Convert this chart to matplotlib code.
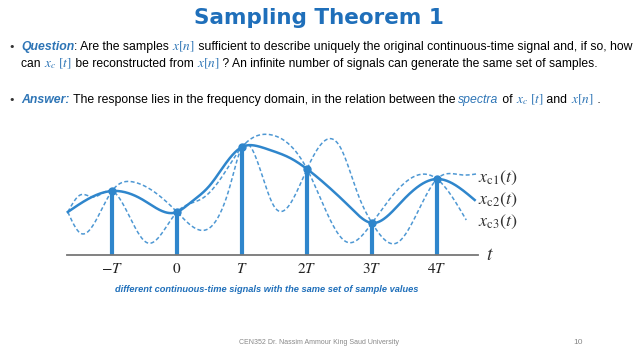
import numpy as np
import matplotlib
matplotlib.use("Agg")
import matplotlib.pyplot as plt

plt.rcParams["mathtext.fontset"] = "stix"

# sample instants (in units of T) and sample heights
t_samples = [-1, 0, 1, 2, 3, 4]
x_samples = [64, 43, 108, 86, 32, 76]
tick_labels = [r"$-T$", r"$0$", r"$T$", r"$2T$", r"$3T$", r"$4T$"]

# knots
t_c1 = [-1.68, -1.49, -1.0, -0.67, 0.0, 0.5, 0.82, 1.0, 1.5, 2.0, 2.51, 2.8, 3.0, 3.38, 4.0, 4.4, 4.6]
x_c1 = [43, 22, 64, 73, 43, 27, 70, 108, 48, 86, 108, 58, 32, 12, 76, 80, 81]

t_c2 = [-1.68, -1.34, -1.0, -0.52, 0.0, 0.2, 0.51, 0.71, 1.0, 1.23, 1.43, 1.74, 2.0, 2.35, 2.66,
        3.0, 3.48, 4.0, 4.58]
x_c2 = [43, 57, 64, 55, 43, 52, 70, 88, 108, 109, 105, 97, 86, 67, 48, 32, 55, 76, 55]

t_c3 = [-1.68, -1.49, -1.29, -1.0, -0.45, 0.0, 0.4, 0.71, 1.0, 1.46, 2.0, 2.61, 3.0, 3.5, 4.0, 4.45]
x_c3 = [43, 60, 58, 64, 12, 43, 57, 80, 108, 120, 86, 13, 32, 72, 76, 35]

curve_names = [r"$x_{\rm c1}(t)$", r"$x_{\rm c2}(t)$", r"$x_{\rm c3}(t)$"]

BLUE = "#2f86cc"
TITLE_BLUE = "#1f6fba"
MATH_BLUE = "#2e75b6"


def spline(xk, yk, n=600):
    # natural cubic spline through the read knots, used only to draw a smooth line
    xk = np.asarray(xk, float)
    yk = np.asarray(yk, float)
    k = len(xk)
    h = np.diff(xk)
    A = np.zeros((k, k))
    b = np.zeros(k)
    A[0, 0] = A[-1, -1] = 1
    for i in range(1, k - 1):
        A[i, i - 1] = h[i - 1]
        A[i, i] = 2 * (h[i - 1] + h[i])
        A[i, i + 1] = h[i]
        b[i] = 6 * ((yk[i + 1] - yk[i]) / h[i] - (yk[i] - yk[i - 1]) / h[i - 1])
    M = np.linalg.solve(A, b)
    xs = np.linspace(xk[0], xk[-1], n)
    j = np.clip(np.searchsorted(xk, xs) - 1, 0, k - 2)
    a = xk[j + 1] - xs
    c = xs - xk[j]
    hj = h[j]
    ys = (M[j] * a**3 + M[j + 1] * c**3) / (6 * hj) \
        + (yk[j] / hj - M[j] * hj / 6) * a + (yk[j + 1] / hj - M[j + 1] * hj / 6) * c
    return xs, ys


W, H = 638, 359
fig = plt.figure(figsize=(W / 100, H / 100), dpi=100)
fig.patch.set_facecolor("white")

# chart axes: x pixel = 177 + 65 t, axis line at y pixel 255
left_px, right_px = 60, 480
ax = fig.add_axes([left_px / W, (H - 255) / H, (right_px - left_px) / W, 130 / H])
ax.set_xlim((left_px - 177) / 65, (right_px - 177) / 65)
ax.set_ylim(0, 130)
for s in ["top", "right", "left"]:
    ax.spines[s].set_visible(False)
ax.spines["bottom"].set_color("#777777")
ax.spines["bottom"].set_linewidth(1.3)
ax.spines["bottom"].set_bounds((67 - 177) / 65, (478 - 177) / 65)
ax.set_yticks([])
ax.set_xticks(t_samples)
ax.set_xticklabels(tick_labels, fontsize=11, color="#222222")
ax.tick_params(axis="x", length=0, pad=4)
ax.patch.set_alpha(0)

dash = (0, (2.6, 1.6))
xs, ys = spline(t_c1, x_c1)
ax.plot(xs, ys, ls=dash, color=BLUE, lw=1.1, alpha=0.85)
xs, ys = spline(t_c3, x_c3)
ax.plot(xs, ys, ls=dash, color=BLUE, lw=1.1, alpha=0.85)
xs, ys = spline(t_c2, x_c2)
ax.plot(xs, ys, color=BLUE, lw=1.8)

ax.vlines(t_samples, 0, x_samples, color=BLUE, lw=3.0)
ax.plot(t_samples, x_samples, "o", color=BLUE, ms=5)

label_y = [x_c1[-1] - 4, x_c2[-1], x_c3[-1] - 2]
for name, yv in zip(curve_names, label_y):
    ax.text(4.63, yv, name, fontsize=13, color="#333333",
            va="center", ha="left", clip_on=False)
ax.text(4.75, 0, r"$t$", fontsize=14, color="#333333",
        va="center", ha="left", clip_on=False)

# slide text
fig.text(319 / W, 1 - 18 / H, "Sampling Theorem 1", ha="center", va="center",
         fontsize=15.5, fontweight="bold", color=TITLE_BLUE, family="DejaVu Sans")

BODY = "Liberation Sans"
renderer = fig.canvas.get_renderer()


def chain(x_px, y_px, parts, fs):
    # lay out mixed-style pieces one after another on a common baseline
    arts = []
    x = x_px
    for txt, style in parts:
        kw = dict(fontsize=fs, family=BODY, color="black")
        if style == "q":
            kw.update(color=MATH_BLUE, fontweight="bold", style="italic")
        elif style == "m":
            kw.update(color=MATH_BLUE, fontsize=fs * 1.1)
        elif style == "i":
            kw.update(color=MATH_BLUE, style="italic")
        a = fig.text(x / W, 1 - y_px / H, txt, va="baseline", ha="left", **kw)
        x = a.get_window_extent(renderer).x1
        arts.append(a)
    return arts, x


lines = [
    (21, 50, 630, [("Question", "q"), (": Are the samples ", ""), (r"$x[n]$", "m"),
                   (" sufficient to describe uniquely the original continuous-time signal and, if so, how", "")]),
    (21, 67, 600, [("can ", ""), (r"$x_c\ [t]$", "m"), (" be reconstructed from ", ""), (r"$x[n]$", "m"),
                   (" ? An infinite number of signals can generate the same set of samples.", "")]),
    (21, 103, 600, [("Answer:", "q"), (" The response lies in the frequency domain, in the relation between the ", ""),
                    ("spectra", "i"), (" of ", ""), (r"$x_c\ [t]$", "m"), (" and ", ""), (r"$x[n]$", "m"),
                    (" .", "")]),
]
for x0, y0, x1, parts in lines:
    arts, xe = chain(x0, y0, parts, 9.0)
    scale = (x1 - x0) / (xe - x0)
    for a in arts:
        a.remove()
    chain(x0, y0, parts, 9.0 * scale)

for yb in (50, 103):
    fig.text(8 / W, 1 - yb / H, "\u2022", fontsize=8, color="#333333", va="baseline")

fig.text(115 / W, 1 - 290 / H, "different continuous-time signals with the same set of sample values",
         fontsize=6.65, fontweight="bold", style="italic", color=TITLE_BLUE, family="Liberation Sans",
         va="center", ha="left")
fig.text(319 / W, 1 - 342 / H, "CEN352 Dr. Nassim Ammour King Saud University",
         fontsize=5.0, color="#888888", family=BODY, va="center", ha="center")
fig.text(578 / W, 1 - 342 / H, "10", fontsize=6.0, color="#888888", family=BODY,
         va="center", ha="center")

fig.savefig("out.png", dpi=100)
